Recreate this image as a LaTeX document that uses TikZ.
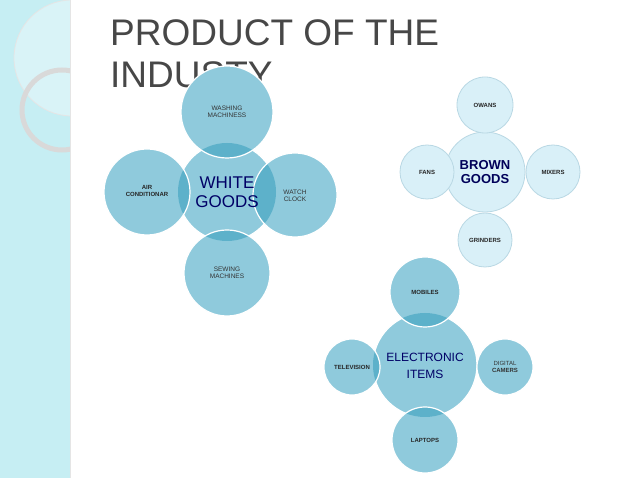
\documentclass[tikz,border=0pt]{standalone}
\usepackage{fontspec}
\setmainfont{Liberation Sans}
\definecolor{wg}{HTML}{8FCADC}
\definecolor{wgd}{HTML}{5DB1CA}
\definecolor{bg}{HTML}{D9F0F8}
\definecolor{bgl}{HTML}{B9D8E4}
\definecolor{strip}{HTML}{C6EEF3}
\begin{document}
\begin{tikzpicture}[x=1pt,y=-1pt,
  lab/.style={font=\fontsize{6}{7}\selectfont\bfseries,align=center,text=black!85},
  wlab/.style={font=\fontsize{6.5}{7.5}\selectfont,align=center,text=black!80},
  wc/.style={circle,fill=wg,draw=white,line width=1.2pt,inner sep=0pt},
  bc/.style={circle,fill=bg,draw=bgl,line width=0.8pt,inner sep=0pt}]
\useasboundingbox (0,0) rectangle (638,478);
\fill[white] (0,0) rectangle (638,478);
\fill[strip] (0,0) rectangle (70,478);
\begin{scope}
\clip (0,0) rectangle (70,478);
\fill[white,opacity=0.35] (72,58) circle (58);
\draw[white!80!gray,line width=0.8pt] (72,58) circle (58);
\draw[gray!30,line width=5pt] (62,110) circle (40);
\end{scope}
\draw[white!80!gray,line width=1pt] (70,0) -- (70,478);
\node[anchor=base west,font=\fontsize{37}{37}\selectfont,text=black!72,inner sep=0pt] (t1) at (110,46) {PRODUCT OF THE};
\node[anchor=base west,font=\fontsize{37}{37}\selectfont,text=black!72,inner sep=0pt] (t2) at (110,88) {INDUSTY};
% white goods
\node[wc,minimum size=98pt] (wgc) at (227,192) {};
\foreach \x/\y/\r in {227/112/46,147/192/43,295/195/42,227/273/43}{
  \begin{scope}\clip (\x,\y) circle (\r);\fill[wg] (\x,\y) circle (\r);
  \clip (227,192) circle (49); \fill[wgd] (\x,\y) circle (\r);\end{scope}
  \draw[white,line width=1.2pt] (\x,\y) circle (\r);
}
\node[font=\fontsize{17}{19}\selectfont,text=blue!40!black,align=center] (wgt) at (227,192) {WHITE\\GOODS};
\node[wlab] (wash) at (227,112) {WASHING\\MACHINESS};
\node[lab] (air) at (147,191) {AIR\\CONDITIONAR};
\node[wlab] (watch) at (295,196) {WATCH\\CLOCK};
\node[wlab] (sew) at (227,273) {SEWING\\MACHINES};
% brown goods
\node[bc,minimum size=80pt] (bgc) at (485,172) {};
\node[bc,minimum size=56pt] (ow) at (485,105) {};
\node[bc,minimum size=54pt] (fa) at (427,172) {};
\node[bc,minimum size=54pt] (mi) at (553,172) {};
\node[bc,minimum size=54pt] (gr) at (485,240) {};
\node[font=\fontsize{13}{14}\selectfont\bfseries,text=blue!35!black,align=center] at (485,172) {BROWN\\GOODS};
\node[lab] at (485,105) {OWANS};
\node[lab] at (427,172) {FANS};
\node[lab] at (553,172) {MIXERS};
\node[lab] at (485,240) {GRINDERS};
% electronic
\node[wc,minimum size=104pt] (ec) at (425,365) {};
\foreach \x/\y/\r in {425/292/35,352/367/28,505/367/28,425/440/33}{
  \begin{scope}\clip (\x,\y) circle (\r);\fill[wg] (\x,\y) circle (\r);
  \clip (425,365) circle (52); \fill[wgd] (\x,\y) circle (\r);\end{scope}
  \draw[white,line width=1.2pt] (\x,\y) circle (\r);
}
\node[font=\fontsize{12}{17}\selectfont,text=blue!40!black,align=center] at (425,366) {ELECTRONIC\\ITEMS};
\node[lab] at (425,292) {MOBILES};
\node[lab] at (352,367) {TELEVISION};
\node[wlab,font=\fontsize{6}{7}\selectfont] at (505,367) {DIGITAL\\\textbf{CAMERS}};
\node[lab] at (425,440) {LAPTOPS};
\end{tikzpicture}
\end{document}
